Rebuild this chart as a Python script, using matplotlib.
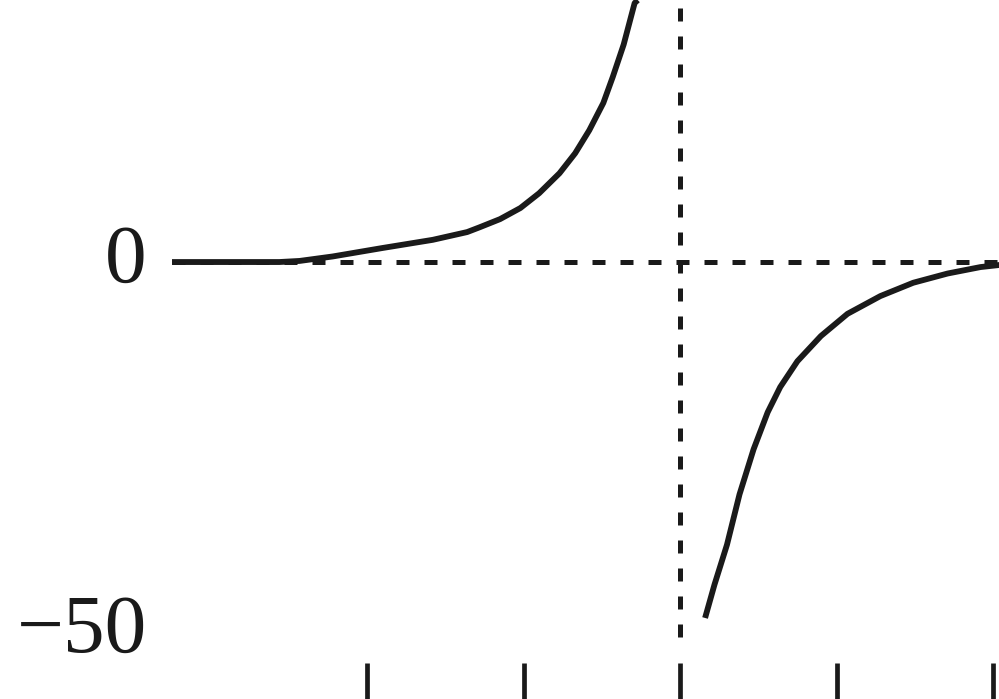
import matplotlib.pyplot as plt

# left branch (before the asymptote)
x_left = [-3.25, -2.75, -2.56, -2.43, -2.22, -1.90, -1.58, -1.36, -1.28, -1.15,
          -1.02, -0.90, -0.77, -0.67, -0.58, -0.49, -0.43, -0.36, -0.29, -0.27]
y_left = [0.0, 0.0, 0.0, 0.15, 0.75, 1.9, 3.0, 4.05, 4.7, 5.8,
          7.3, 9.3, 12.0, 14.7, 17.8, 21.5, 25.0, 29.4, 35.0, 35.4]

# right branch (after the asymptote)
x_right = [0.16, 0.22, 0.30, 0.38, 0.47, 0.56, 0.64, 0.75, 0.90, 1.07,
           1.28, 1.49, 1.71, 1.92, 2.04]
y_right = [-48.1, -43.6, -38.2, -31.4, -25.3, -20.3, -16.9, -13.4, -10.0, -7.0,
           -4.6, -2.8, -1.55, -0.68, -0.4]

x_ticks = [-2, -1, 0, 1, 2]
y_ticks = [0, -50]
y_labels = ['0', '\u221250']

fig = plt.figure(figsize=(9.99, 6.99), dpi=100)
ax = fig.add_axes([172 / 999, 0, 827 / 999, 1])

dash = (0, (2.6, 3.0))
ax.axhline(0, color='#1a1a1a', lw=3.6, ls=dash, zorder=1)
ax.plot([0, 0], [-50.7, 36], color='#1a1a1a', lw=3.6, ls=dash, zorder=1)
ax.plot(x_left, y_left, color='#1a1a1a', lw=4.2, solid_capstyle='butt',
        solid_joinstyle='round', zorder=2)
ax.plot(x_right, y_right, color='#1a1a1a', lw=4.2, solid_capstyle='butt',
        solid_joinstyle='round', zorder=2)

ax.set_xlim(-3.246, 2.038)
ax.set_ylim(-59.05, 35.41)

for s in ax.spines.values():
    s.set_visible(False)

ax.set_xticks(x_ticks)
ax.set_xticklabels([])
ax.tick_params(axis='x', direction='in', length=26, width=3.4, color='#1a1a1a')
ax.set_yticks(y_ticks)
ax.set_yticklabels(y_labels, family='Liberation Serif', fontsize=60, color='#1a1a1a',
                   va='center')
ax.tick_params(axis='y', length=0, pad=18)

fig.savefig('out.png', dpi=100)
